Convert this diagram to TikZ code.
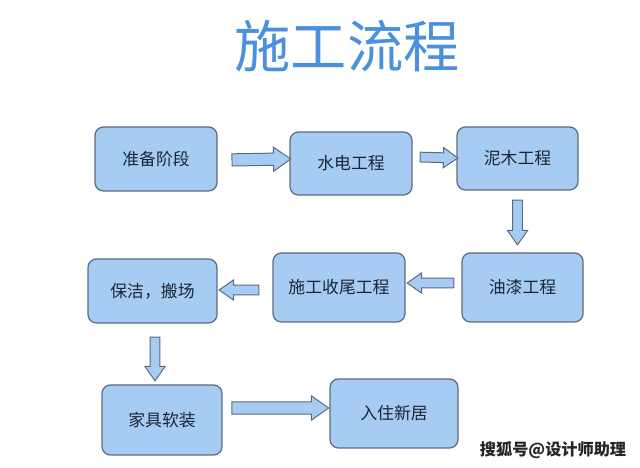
\documentclass[tikz,border=0pt]{standalone}
\usepackage{fontspec}
\setmainfont{Noto Sans CJK SC}
\usepackage{tikz}
\usetikzlibrary{calc,shapes.arrows}
\definecolor{ttl}{HTML}{4A90DC}
\definecolor{fillb}{HTML}{A6CCF4}
\definecolor{edge}{HTML}{5E6B7C}
\definecolor{ink}{HTML}{1C2533}
\tikzset{
  stage/.style={draw=edge,fill=fillb,line width=0.9pt,rounded corners=6pt,inner sep=0pt,text=ink,font=\fontsize{12}{14}\selectfont},
  blk/.style={single arrow,draw=edge,fill=fillb,line width=0.7pt,inner sep=0pt,inner ysep=0.11cm,single arrow head extend=0.13cm,single arrow tip angle=70},
  wide/.style={inner ysep=0.14cm,single arrow head extend=0.15cm},
}
% block arrow between two points, length taken from the points
\newcommand{\blkarr}[3][]{\path let \p1=#2, \p2=#3, \n1={veclen(\x2-\x1,\y2-\y1)} in (\p1) -- (\p2) node[midway,sloped,allow upside down,blk,minimum height=\n1,#1] {};}

\begin{document}
\begin{tikzpicture}
\useasboundingbox (0,0) rectangle (16,11.7);
\node[font=\fontsize{40}{44}\selectfont,text=ttl] (title) at (8.675,10.55) {施工流程};
% first row
\node[stage,minimum width=3.05cm,minimum height=1.6cm] (prep) at (3.9,7.725) {准备阶段};
\node[stage,minimum width=3.05cm,minimum height=1.575cm] (water) at (8.775,7.6125) {水电工程};
\node[stage,minimum width=3.025cm,minimum height=1.575cm] (wood) at (12.9375,7.7375) {泥木工程};
% second row
\node[stage,minimum width=3.025cm,minimum height=1.725cm] (paint) at (13.0625,4.5125) {油漆工程};
\node[stage,minimum width=3.3cm,minimum height=1.725cm] (finish) at (8.475,4.5125) {施工收尾工程};
\node[stage,minimum width=3.225cm,minimum height=1.6cm] (clean) at (3.8125,4.425) {保洁，搬场};
% third row
\node[stage,minimum width=3.0cm,minimum height=1.75cm] (furn) at (4.05,1.2) {家具软装};
\node[stage,minimum width=3.2cm,minimum height=1.725cm] (home) at (9.85,1.3625) {入住新居};
\node[font=\fontsize{11.5}{13}\selectfont\bfseries,text=black!85] (mark) at (13.825,0.45) {搜狐号@设计师助理};
\blkarr[wide]{($(prep.east)+(0.25,-0.025)$)}{($(water.west)+(-0.075,0.1125)$)}
\blkarr{($(water.east)+(0.1,0.1625)$)}{($(wood.west)+(-0.05,0.0125)$)}
\blkarr{($(wood.south)+(0,-0.15)$)}{($(paint.north)+(-0.125,0.275)$)}
\blkarr{($(paint.west)+(-0.1,0.1125)$)}{($(finish.east)+(0.125,0.1125)$)}
\blkarr{($(finish.west)+(-0.25,-0.0625)$)}{($(clean.east)+(0.125,0.025)$)}
\blkarr{($(clean.south)+(0.0625,-0.25)$)}{($(furn.north)+(-0.175,0.175)$)}
\blkarr[wide]{($(furn.east)+(0.125,0.3)$)}{($(home.west)+(-0.125,0.1375)$)}
\end{tikzpicture}
\end{document}
